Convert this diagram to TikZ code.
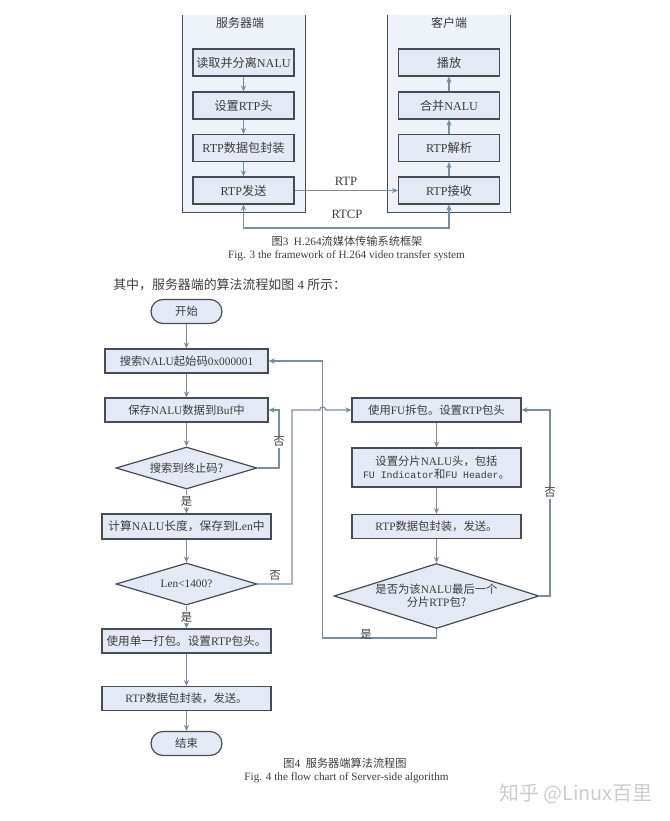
\documentclass[tikz,border=0pt]{standalone}
\usepackage{fontspec}
\setmainfont{Liberation Serif}
\setmonofont{Liberation Mono}
\newfontfamily\cjk{Noto Sans CJK SC}
\newcommand{\zh}[1]{{\cjk #1}}
\usetikzlibrary{shapes.geometric, arrows.meta, positioning, calc}
\definecolor{panelblue}{RGB}{238, 242, 249}
\definecolor{boxblue}{RGB}{228, 234, 245}
\definecolor{edgegray}{RGB}{70, 75, 85}
\definecolor{flowblue}{RGB}{120, 142, 165}
\definecolor{inkgray}{RGB}{60, 60, 60}
\tikzset{
  panelbox/.style={fill=panelblue, minimum width=92.25pt, minimum height=147.75pt, inner sep=0pt},
  panelline/.style={draw=edgegray, line width=0.8pt},
  framebox/.style={draw=edgegray, fill=boxblue, line width=0.9pt, minimum width=75.75pt, minimum height=20.25pt, inner sep=0pt, align=center, text=inkgray, font=\fontsize{9.1}{11}\selectfont},
  flowbox/.style={framebox, minimum width=122.25pt, minimum height=18pt, font=\fontsize{8.5}{10}\selectfont},
  widebox/.style={flowbox, minimum width=126.75pt},
  endbox/.style={flowbox, rounded corners=9pt, minimum width=53.25pt},
  decision/.style={diamond, draw=edgegray, fill=boxblue, line width=0.9pt, minimum width=105.75pt, minimum height=31.5pt, inner sep=0pt},
  flowline/.style={draw=flowblue, line width=0.9pt},
  flowarrow/.style={flowline, -{Stealth[length=4.5pt, width=4pt]}},
  tag/.style={text=inkgray, inner sep=1pt, font=\fontsize{8.5}{10}\selectfont},
  tagfill/.style={tag, fill=white},
  linktag/.style={tag, font=\fontsize{9.5}{11}\selectfont},
  caption/.style={text=inkgray, inner sep=0pt, font=\fontsize{8.4}{10}\selectfont}
}

\begin{document}
\begin{tikzpicture}[x=0.75pt, y=-0.75pt]
  \useasboundingbox (0,0) rectangle (670,821);

  % Fig. 3: panels, open at the top
  \node[panelbox] (server) at (244,113.5) {};
  \node[panelbox] (client) at (449,113.5) {};
  \draw[panelline] (server.north west) -- (server.south west) -- (server.south east) -- (server.north east);
  \draw[panelline] (client.north west) -- (client.south west) -- (client.south east) -- (client.north east);
  \node[tag, font=\fontsize{9}{11}\selectfont] (servertitle) at (240,23) {\zh{服务器端}};
  \node[tag, font=\fontsize{9}{11}\selectfont] (clienttitle) at (449,23) {\zh{客户端}};

  % Server side
  \node[framebox] (readnalu) at (243.5,62.5) {\zh{读取并分离}NALU};
  \node[framebox] (sethead) at (243.5,105.5) {\zh{设置}RTP\zh{头}};
  \node[framebox] (packrtp) at (243.5,148) {RTP\zh{数据包封装}};
  \node[framebox] (sendrtp) at (243.5,190.5) {RTP\zh{发送}};

  % Client side
  \node[framebox] (play) at (449,62.5) {\zh{播放}};
  \node[framebox] (mergenalu) at (449,105.5) {\zh{合并}NALU};
  \node[framebox] (parsertp) at (449,148) {RTP\zh{解析}};
  \node[framebox] (recvrtp) at (449,190.5) {RTP\zh{接收}};

  % Arrows
  \draw[flowarrow] (readnalu) -- (sethead);
  \draw[flowarrow] (sethead) -- (packrtp);
  \draw[flowarrow] (packrtp) -- (sendrtp);
  \draw[flowarrow] (recvrtp) -- (parsertp);
  \draw[flowarrow] (parsertp) -- (mergenalu);
  \draw[flowarrow] (mergenalu) -- (play);
  \draw[flowarrow] (sendrtp) -- (recvrtp);
  \coordinate (rtcpleft) at (243.5,228);
  \coordinate (rtcpright) at (449,228);
  \draw[flowline, {Stealth[length=4.5pt, width=4pt]}-{Stealth[length=4.5pt, width=4pt]}] (sendrtp.south) -- (rtcpleft) -- (rtcpright) -- (recvrtp.south);
  \node[linktag] (rtplabel) at (346,181) {RTP};
  \node[linktag] (rtcplabel) at (347,214) {RTCP};

  % Captions
  \node[caption] (figthreezh) at (347,241) {\zh{图}3\ \ H.264\zh{流媒体传输系统框架}};
  \node[caption] (figthreeen) at (346.5,256) {Fig. 3 the framework of H.264 video transfer system};
  \node[tag, anchor=west, inner sep=0pt, font=\fontsize{9.7}{11}\selectfont] (introtext) at (113,285) {\zh{其中，服务器端的算法流程如图} 4 \zh{所示：}};

  % Fig. 4: left column
  \node[endbox] (start) at (186.5,311.5) {\zh{开始}};
  \node[flowbox] (search) at (186.5,361) {\zh{搜索}NALU\zh{起始码}0x000001};
  \node[flowbox] (savebuf) at (186.5,410) {\zh{保存}NALU\zh{数据到}Buf\zh{中}};
  \node[decision, label={[tag]center:\zh{搜索到终止码?}}] (foundend) at (186.5,468) {};
  \node[widebox, minimum height=18.75pt, font=\fontsize{8.8}{10}\selectfont] (calclen) at (186.5,526.5) {\zh{计算}NALU\zh{长度，保存到}Len\zh{中}};
  \node[decision, label={[tag]center:Len<1400?}] (checklen) at (186.5,584) {};
  \node[widebox, font=\fontsize{8.7}{10}\selectfont] (single) at (186.5,641) {\zh{使用单一打包。设置}RTP\zh{包头。}};
  \node[widebox] (packsend) at (186.5,698.5) {RTP\zh{数据包封装，发送。}};
  \node[endbox] (finish) at (186.5,743.5) {\zh{结束}};

  % Fig. 4: right column
  \node[widebox] (fusplit) at (436.5,410) {\zh{使用}FU\zh{拆包。设置}RTP\zh{包头}};
  \node[widebox, minimum height=29.25pt] (fuhead) at (436.5,467.5) {\zh{设置分片}NALU\zh{头，包括}\\{\ttfamily\fontsize{7.4}{10}\selectfont FU Indicator}\zh{和}{\ttfamily\fontsize{7.4}{10}\selectfont FU Header}\zh{。}};
  \node[widebox] (fupack) at (436.5,526.5) {RTP\zh{数据包封装，发送。}};
  \node[decision, minimum width=153.75pt, minimum height=48.75pt, label={[tag, align=center]center:\zh{是否为该}NALU\zh{最后一个}\\\zh{分片}RTP\zh{包?}}] (lastfrag) at (436.5,596) {};

  % Arrows
  \draw[flowarrow] (start) -- (search);
  \draw[flowarrow] (search) -- (savebuf);
  \draw[flowarrow] (savebuf) -- (foundend);
  \draw[flowarrow] (foundend) -- (calclen);
  \draw[flowarrow] (calclen) -- (checklen);
  \draw[flowarrow] (checklen) -- (single);
  \draw[flowarrow] (single) -- (packsend);
  \draw[flowarrow] (packsend) -- (finish);
  \draw[flowarrow] (fusplit) -- (fuhead);
  \draw[flowarrow] (fuhead) -- (fupack);
  \draw[flowarrow] (fupack) -- (lastfrag);

  % Loops
  \coordinate (nobend) at (279,468);
  \draw[flowarrow] (foundend.east) -- (nobend) |- (savebuf.east);
  \coordinate (lastbend) at (550,596);
  \draw[flowarrow] (lastfrag.east) -- (lastbend) |- (fusplit.east);
  \coordinate (backdown) at (436.5,638);
  \coordinate (backleft) at (322.7,638);
  \draw[flowarrow] (lastfrag.south) -- (backdown) -- (backleft) |- (search.east);
  \coordinate (lenbend) at (292,584);
  \coordinate (lentop) at (292,410);
  \coordinate (hopstart) at (319.7,410);
  \draw[flowarrow] (checklen.east) -- (lenbend) -- (lentop) -- (hopstart) arc[start angle=180, end angle=0, radius=2.25pt] -- (fusplit.west);

  % Branch labels
  \node[tagfill] (noone) at (279,442) {\zh{否}};
  \node[tagfill] (yesone) at (186.5,501) {\zh{是}};
  \node[tag] (notwo) at (275,576) {\zh{否}};
  \node[tagfill] (yestwo) at (186.5,617) {\zh{是}};
  \node[tagfill] (nothree) at (550,493) {\zh{否}};
  \node[tag] (yesthree) at (366,634) {\zh{是}};

  % Caption and mark
  \node[caption] (figfourzh) at (345,763) {\zh{图}4\ \ \zh{服务器端算法流程图}};
  \node[caption] (figfouren) at (346.5,778) {Fig. 4 the flow chart of Server-side algorithm};
  \node[inner sep=0pt, text=black!20, font=\fontsize{14.9}{17}\selectfont] (watermark) at (576,794) {\zh{知乎 @Linux百里}};
\end{tikzpicture}
\end{document}
